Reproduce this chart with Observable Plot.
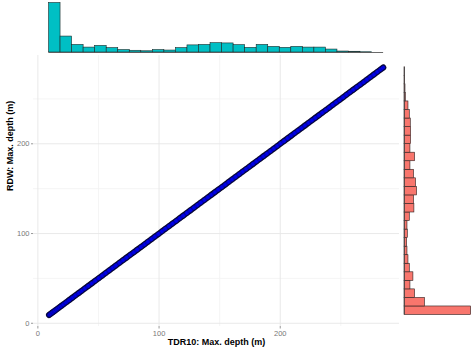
<!DOCTYPE html>
<html>
<head>
<meta charset="utf-8">
<script src="https://cdn.jsdelivr.net/npm/d3@7"></script>
<script src="https://cdn.jsdelivr.net/npm/@observablehq/plot@0.6"></script>
<style>
  html, body { margin: 0; padding: 0; background: #fff; }
  #wrap { position: relative; width: 474px; height: 355px; overflow: hidden; background: #fff; }
  #wrap > div { position: absolute; }
</style>
</head>
<body>
<div id="wrap">
  <div id="top"></div>
  <div id="main"></div>
  <div id="right"></div>
</div>
<script>
// Maximum dive depths (m); both loggers agree, so points lie on x = y
const depth = [9.2, 10.1, 10.8, 11.5, 12.3, 13.0, 13.9, 14.6, 15.8, 16.9, 18.2, 19.5, 21.3, 23.6,
  25.9, 28.4, 31.0, 33.7, 36.1, 38.8, 41.5, 44.6, 47.2, 50.3, 53.1, 55.8, 58.9, 61.7, 64.2, 67.5,
  70.3, 73.0, 76.4, 79.1, 81.9, 85.2, 88.0, 90.7, 93.8, 96.5, 99.4, 102.6, 105.1, 108.3, 111.0,
  114.2, 117.1, 119.8, 123.0, 125.7, 128.9, 131.6, 134.4, 137.5, 140.3, 143.2, 146.0, 148.9,
  151.8, 154.6, 157.5, 160.3, 163.1, 166.2, 168.9, 171.8, 174.6, 177.5, 180.4, 183.2, 186.1,
  188.8, 191.9, 194.7, 197.5, 200.4, 203.1, 206.2, 209.0, 211.8, 214.7, 217.5, 220.4, 223.3,
  226.1, 229.0, 231.8, 234.7, 237.6, 240.4, 243.3, 246.1, 249.0, 251.8, 254.7, 257.5, 260.2,
  263.1, 266.0, 268.8, 271.5, 274.3, 277.2, 280.1, 282.9, 285.0];

// Histogram bins (m)
const binStart = 9.2;
const binWidth = 9.52;
const tdr10Counts = [202, 65, 31, 20, 27, 18, 10, 7, 5, 10, 8, 18, 29, 31, 38, 37, 30, 19, 31, 23, 19, 23, 20, 20, 12, 4, 3, 1, 0];
const rdwCounts   = [202, 62, 32, 18, 27, 16, 12, 9, 8, 10, 9, 16, 30, 29, 38, 35, 29, 18, 32, 18, 20, 20, 19, 16, 12, 4, 3, 2, 1];

const majorTicks = [0, 100, 200];
const minorTicks = [50, 150, 250];
const xTitle = "TDR10: Max. depth (m)";
const yTitle = "RDW: Max. depth (m)";

const xDomain = [-3.6, 298.4];
const yDomain = [-3.6, 298.4];
const font = "'Liberation Sans', Arial, sans-serif";

const toBins = counts => counts.map((c, i) => ({lo: binStart + i * binWidth, hi: binStart + (i + 1) * binWidth, c}));
const topBins = toBins(tdr10Counts);
const rightBins = toBins(rdwCounts);
const binEnd = binStart + tdr10Counts.length * binWidth;

// Top marginal histogram
const topPlot = Plot.plot({
  width: 400, height: 54,
  marginLeft: 33, marginRight: 1, marginTop: 0, marginBottom: 2,
  style: {fontFamily: font, background: "transparent"},
  x: {domain: xDomain, axis: null},
  y: {domain: [0, d3.max(tdr10Counts) * 1.05], axis: null},
  marks: [
    Plot.rect(topBins, {x1: "lo", x2: "hi", y1: 0, y2: "c", fill: "#00BFC4", stroke: "#1e2a2a", strokeWidth: 0.6}),
    Plot.ruleY([0], {x1: binStart, x2: binEnd, stroke: "#444", strokeWidth: 0.8})
  ]
});

// Main scatter
const mainPlot = Plot.plot({
  width: 400, height: 303,
  marginLeft: 33, marginRight: 1, marginTop: 3, marginBottom: 29,
  style: {fontFamily: font, background: "transparent"},
  x: {domain: xDomain, axis: null},
  y: {domain: yDomain, axis: null},
  marks: [
    Plot.gridX(minorTicks, {stroke: "#f2f2f2", strokeOpacity: 1, strokeWidth: 0.8}),
    Plot.gridY(minorTicks, {stroke: "#f2f2f2", strokeOpacity: 1, strokeWidth: 0.8}),
    Plot.gridX(majorTicks, {stroke: "#e6e6e6", strokeOpacity: 1, strokeWidth: 0.9}),
    Plot.gridY(majorTicks, {stroke: "#e6e6e6", strokeOpacity: 1, strokeWidth: 0.9}),
    Plot.axisX({ticks: majorTicks, tickSize: 2.5, tickPadding: 2, fontSize: 7.5, stroke: "#999", fill: "#777", label: null}),
    Plot.axisY({ticks: majorTicks, tickSize: 2, tickPadding: 2, fontSize: 7.5, stroke: "#999", fill: "#777", label: null}),
    // overlapping points form a continuous band: dark outline, blue core
    Plot.line(depth, {x: d => d, y: d => d, stroke: "#0a0a2a", strokeWidth: 6, strokeLinecap: "round"}),
    Plot.line(depth, {x: d => d, y: d => d, stroke: "#0000e0", strokeWidth: 3.4, strokeLinecap: "round"}),
    Plot.dot(depth, {x: d => d, y: d => d, r: 2.8, fill: "#0000ff", fillOpacity: 0.25, stroke: "#000", strokeWidth: 0.6, strokeOpacity: 0.35}),
    Plot.text([xTitle], {frameAnchor: "bottom", dy: 18.5, fontSize: 9, fontWeight: "bold", fill: "#000"}),
    Plot.text([yTitle], {frameAnchor: "left", dx: -23, rotate: -90, fontSize: 9, fontWeight: "bold", fill: "#000"})
  ]
});

// Right marginal histogram
const rightPlot = Plot.plot({
  width: 74, height: 303,
  marginLeft: 4, marginRight: 0, marginTop: 3, marginBottom: 29,
  style: {fontFamily: font, background: "transparent"},
  x: {domain: [0, d3.max(rdwCounts) * 1.05], axis: null},
  y: {domain: yDomain, axis: null},
  marks: [
    Plot.rect(rightBins, {y1: "lo", y2: "hi", x1: 0, x2: "c", fill: "#F8766D", stroke: "#2a1e1e", strokeWidth: 0.6}),
    Plot.ruleX([0], {y1: binStart, y2: binEnd, stroke: "#444", strokeWidth: 0.8})
  ]
});

const place = (id, node, left, top) => {
  const el = document.getElementById(id);
  el.style.left = left + "px";
  el.style.top = top + "px";
  el.appendChild(node);
};
place("top", topPlot, 0, 0);
place("main", mainPlot, 0, 52);
place("right", rightPlot, 400, 52);
</script>
</body>
</html>
